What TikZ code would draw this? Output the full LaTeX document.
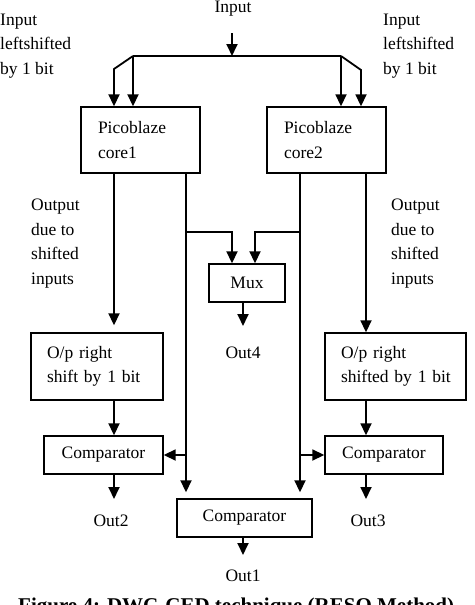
\documentclass[tikz,border=0pt]{standalone}
\usepackage{fontspec}
\setmainfont{Liberation Serif}
\usetikzlibrary{arrows.meta,calc}
\newcommand\mylbl{\fontsize{17.5}{24.5}\selectfont}
\hbadness=10000 \hfuzz=100pt
\begin{document}
\begin{tikzpicture}[x=1pt,y=-1pt,
 wire/.style={line width=1.8pt},
 arr/.style={wire,-{Triangle[length=12pt,width=11pt]}},
 box/.style={draw,line width=1.4pt,rectangle,inner sep=0pt,font=\mylbl},
 lbox/.style={box,align=left},
 txt/.style={inner sep=0pt,font=\mylbl,align=left}]
\useasboundingbox (0,0) rectangle (474,605);
\clip (0,0) rectangle (474,605);
\fill[white] (0,0) rectangle (474,605);
% boxes
\node[lbox,minimum width=119pt,minimum height=66pt,text width=85pt,inner xsep=17pt] (core1) at (140.5,140) {Picoblaze\\core1};
\node[lbox,minimum width=119pt,minimum height=66pt,text width=85pt,inner xsep=17pt] (core2) at (326.5,140) {Picoblaze\\core2};
\node[box,minimum width=76pt,minimum height=38pt] (mux) at (247,283) {Mux\hspace{8pt}};
\node[lbox,minimum width=132pt,minimum height=67pt,text width=100pt,inner xsep=16pt] (opL) at (97,366.5) {O/p right\\\mbox{shift by 1 bit}};
\node[lbox,minimum width=141pt,minimum height=67pt,text width=109pt,inner xsep=16pt] (opR) at (395.5,366.5) {O/p right\\\mbox{shifted by 1 bit}};
\node[box,minimum width=119pt,minimum height=38pt] (compL) at (103.5,455) {Comparator};
\node[box,minimum width=135pt,minimum height=38pt] (compB) at (244.5,518) {Comparator};
\node[box,minimum width=118pt,minimum height=38pt] (compR) at (384,455) {Comparator};
% labels
\node[txt] (inlbl) at (233,9) {Input};
\node[txt,anchor=west] (lsL) at (0,46) {Input\\leftshifted\\by 1 bit};
\node[txt,anchor=west] (lsR) at (383,46) {Input\\leftshifted\\by 1 bit};
\node[txt,anchor=west] (odL) at (31,243.5) {Output\\due to\\shifted\\inputs};
\node[txt,anchor=west] (odR) at (391,243.5) {Output\\due to\\shifted\\inputs};
\node[txt] (out4) at (243,353) {Out4};
\node[txt] (out2) at (111,521) {Out2};
\node[txt] (out3) at (368,521) {Out3};
\node[txt] (out1) at (243,576) {Out1};
\node[anchor=base west,inner sep=0pt,font=\fontsize{21}{25}\selectfont\bfseries] (cap) at (18,612) {Figure 4: DWC-CED technique (RESO Method)};
% coordinates
\coordinate (inTop) at (232,33);
\coordinate (busC) at (232,56);
\coordinate (busL) at (133,56);
\coordinate (busR) at (341,56);
\coordinate (bendL) at (114,69);
\coordinate (bendR) at (361,70);
\coordinate (x1a) at (114,0);
\coordinate (x1b) at (186,0);
\coordinate (x2a) at (300,0);
\coordinate (x2b) at (366,0);
\coordinate (mL) at (232,232);
\coordinate (mR) at (255,232);
\coordinate (o2) at (114,499);
\coordinate (o3) at (366,499);
\coordinate (o1) at (243,555);
\coordinate (o4) at (243,326);
% input
\draw[arr] (inTop) -- (busC);
\draw[wire] (busL) -- (busR);
\draw[arr] (busL) -- (bendL) -- (bendL |- core1.north);
\draw[arr] (busL) -- (busL |- core1.north);
\draw[arr] (busR) -- (busR |- core2.north);
\draw[arr] (busR) -- (bendR) -- (bendR |- core2.north);
% cores down
\draw[arr,shorten >=7pt] (core1.south -| x1a) -- (opL.north -| x1a);
\draw[arr] (core2.south -| x2b) -- (opR.north -| x2b);
\draw[arr,shorten >=6pt] (core1.south -| x1b) -- (compB.north -| x1b);
\draw[arr,shorten >=6pt] (core2.south -| x2a) -- (compB.north -| x2a);
% mux
\draw[arr] (mL -| x1b) -- (mL) -- (mL |- mux.north);
\draw[arr] (mR -| x2a) -- (mR) -- (mR |- mux.north);
\draw[arr] (mux.south -| o4) -- (o4);
% comparators
\draw[arr] (compL.east -| x1b) -- (compL.east);
\draw[arr] (compR.west -| x2a) -- (compR.west);
\draw[arr] (opL.south -| x1a) -- (compL.north -| x1a);
\draw[arr] (opR.south -| x2b) -- (compR.north -| x2b);
\draw[arr] (compL.south -| o2) -- (o2);
\draw[arr] (compR.south -| o3) -- (o3);
\draw[arr] (compB.south -| o1) -- (o1);
\end{tikzpicture}
\end{document}
